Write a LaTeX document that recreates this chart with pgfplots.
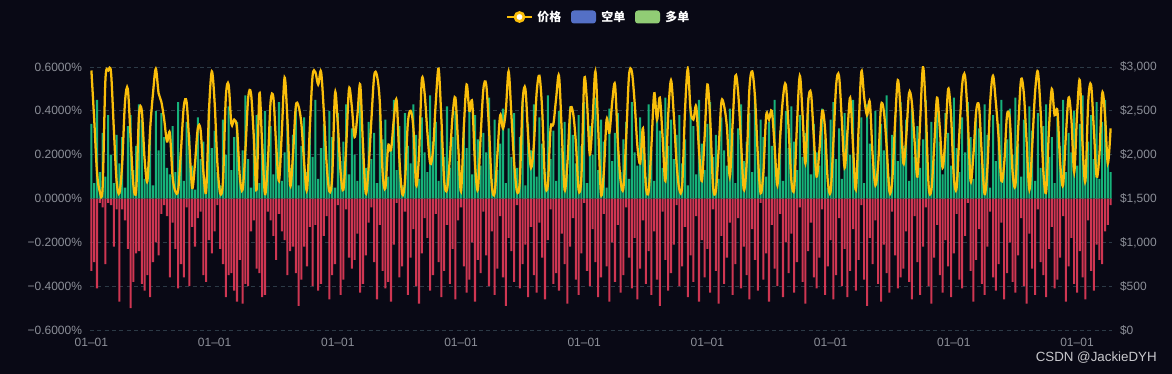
\documentclass[border=0pt]{standalone}
\usepackage{pgfplots}
\pgfplotsset{compat=1.18}
\usepackage{pgfplotstable}
\usepackage{fontspec}
\setmainfont{Liberation Sans}
\newfontfamily\cjk{Noto Sans CJK SC}
\definecolor{bg}{RGB}{9,9,21}
\definecolor{gridc}{RGB}{44,58,70}
\definecolor{tickc}{RGB}{140,143,152}
\definecolor{gold}{RGB}{250,190,10}
\definecolor{upg}{RGB}{22,178,122}
\definecolor{dnr}{RGB}{207,54,82}
\definecolor{legb}{RGB}{84,112,198}
\definecolor{legg}{RGB}{145,204,117}
\pgfplotstableread{
g r p
0.34 -0.33 2960
0.07 -0.29 2400
0.45 -0.41 1800
0.12 -0.02 1580
0.30 -0.04 1620
0.10 -0.30 2850
0.38 -0.02 2960
0.20 -0.03 2940
0.07 -0.22 2300
0.29 -0.05 1700
0.16 -0.47 1560
0.28 -0.05 1900
0.05 -0.10 2600
0.33 -0.23 2750
0.38 -0.50 2200
0.13 -0.38 1650
0.24 -0.25 1600
0.43 -0.24 2450
0.36 -0.39 2500
0.09 -0.42 1950
0.14 -0.35 1700
0.31 -0.45 2300
0.06 -0.29 2700
0.40 -0.20 2980
0.22 -0.26 2700
0.39 -0.07 2600
0.28 -0.03 2400
0.14 -0.08 2150
0.11 -0.36 2250
0.33 -0.11 1750
0.12 -0.23 1580
0.44 -0.41 1600
0.21 -0.30 2050
0.08 -0.36 2550
0.35 -0.04 2600
0.29 -0.40 2100
0.15 -0.13 1620
0.04 -0.22 1900
0.37 -0.09 2300
0.18 -0.06 2280
0.26 -0.35 1800
0.09 -0.38 1590
0.41 -0.19 2500
0.23 -0.25 2950
0.31 -0.15 2600
0.12 -0.03 1900
0.06 -0.23 1560
0.36 -0.30 1700
0.20 -0.45 2650
0.42 -0.35 2800
0.13 -0.34 2350
0.28 -0.42 2400
0.35 -0.47 2300
0.10 -0.28 1750
0.22 -0.48 1600
0.47 -0.39 2050
0.18 -0.40 2650
0.05 -0.15 2700
0.30 -0.10 2200
0.38 -0.32 1600
0.07 -0.34 2700
0.25 -0.45 2100
0.40 -0.44 1550
0.16 -0.06 1900
0.33 -0.10 2600
0.11 -0.17 2650
0.27 -0.28 2100
0.44 -0.07 1700
0.08 -0.15 2250
0.21 -0.19 2880
0.36 -0.35 2400
0.14 -0.24 1650
0.29 -0.22 2000
0.42 -0.34 2550
0.06 -0.49 2550
0.24 -0.37 2350
0.37 -0.22 1900
0.12 -0.31 1600
0.31 -0.13 2300
0.19 -0.40 2900
0.45 -0.12 2940
0.09 -0.42 2800
0.23 -0.39 2950
0.34 -0.17 2500
0.15 -0.08 1900
0.40 -0.46 1580
0.28 -0.35 1750
0.05 -0.30 2700
0.39 -0.03 2350
0.17 -0.44 1800
0.26 -0.37 1600
0.43 -0.05 2100
0.11 -0.27 2750
0.32 -0.32 2550
0.20 -0.28 2200
0.08 -0.16 2450
0.46 -0.43 2800
0.25 -0.39 2100
0.14 -0.26 1560
0.35 -0.11 1850
0.18 -0.04 2400
0.30 -0.29 2900
0.07 -0.46 2900
0.41 -0.12 2600
0.27 -0.33 1800
0.36 -0.41 1620
0.10 -0.38 2100
0.22 -0.47 2050
0.45 -0.21 2400
0.13 -0.02 2620
0.33 -0.36 1950
0.06 -0.31 1550
0.39 -0.06 1700
0.24 -0.44 2350
0.16 -0.27 2500
0.43 -0.14 2300
0.29 -0.40 1650
0.09 -0.48 2000
0.37 -0.25 2850
0.21 -0.09 2700
0.12 -0.18 2250
0.47 -0.42 1900
0.26 -0.35 2050
0.35 -0.07 2600
0.08 -0.29 2980
0.31 -0.45 2400
0.19 -0.33 1700
0.42 -0.12 1600
0.14 -0.39 1950
0.28 -0.23 2450
0.40 -0.46 2650
0.17 -0.10 2100
0.05 -0.04 1580
0.34 -0.31 2300
0.23 -0.43 2800
0.44 -0.37 2500
0.11 -0.20 2600
0.38 -0.47 1900
0.27 -0.28 1600
0.15 -0.34 2200
0.30 -0.06 2750
0.21 -0.26 2800
0.46 -0.40 2300
0.09 -0.15 1650
0.36 -0.44 1560
0.13 -0.32 2000
0.25 -0.08 2450
0.41 -0.36 2300
0.07 -0.49 2500
0.32 -0.18 2950
0.19 -0.24 2450
0.39 -0.38 1900
0.14 -0.03 1580
0.28 -0.41 1700
0.45 -0.30 2600
0.06 -0.21 2750
0.34 -0.45 2200
0.22 -0.13 1850
0.43 -0.35 2100
0.10 -0.43 2700
0.37 -0.11 2900
0.25 -0.27 2500
0.12 -0.46 1700
0.47 -0.19 1650
0.18 -0.05 2300
0.31 -0.39 2350
0.08 -0.34 2650
0.40 -0.42 2900
0.23 -0.16 2250
0.35 -0.30 1600
0.11 -0.48 1900
0.42 -0.22 2500
0.29 -0.09 2480
0.16 -0.37 2150
0.38 -0.44 1600
0.24 -0.25 1750
0.44 -0.02 2850
0.07 -0.33 2600
0.33 -0.40 2000
0.20 -0.14 2400
0.46 -0.29 2950
0.13 -0.45 2300
0.36 -0.36 1550
0.26 -0.07 1800
0.05 -0.31 2400
0.41 -0.47 2250
0.17 -0.20 2600
0.30 -0.38 2800
0.39 -0.12 2150
0.12 -0.43 1700
0.27 -0.35 1620
0.35 -0.04 2200
0.09 -0.27 2900
0.44 -0.41 2950
0.21 -0.18 2600
0.15 -0.46 2100
0.37 -0.32 1900
0.28 -0.10 2300
0.10 -0.39 1650
0.43 -0.24 1580
0.22 -0.44 2100
0.08 -0.15 2700
0.40 -0.37 2400
0.31 -0.49 2650
0.14 -0.06 2200
0.46 -0.28 1700
0.24 -0.42 2450
0.36 -0.34 2850
0.18 -0.21 2450
0.29 -0.03 1900
0.38 -0.40 1600
0.16 -0.31 1650
0.27 -0.13 2500
0.06 -0.45 2980
0.42 -0.26 2500
0.33 -0.38 2400
0.11 -0.08 2550
0.45 -0.47 2050
0.25 -0.19 1700
0.13 -0.36 2200
0.34 -0.23 2800
0.44 -0.43 2400
0.19 -0.05 1650
0.29 -0.33 1580
0.09 -0.48 2050
0.37 -0.17 2600
0.22 -0.39 2550
0.15 -0.27 2300
0.41 -0.11 1750
0.30 -0.44 2350
0.07 -0.30 2900
0.32 -0.09 2700
0.43 -0.41 2150
0.17 -0.22 1600
0.26 -0.35 1900
0.39 -0.46 2750
0.12 -0.14 2950
0.47 -0.28 2650
0.20 -0.42 2000
0.36 -0.02 1560
0.28 -0.37 1800
0.10 -0.25 2450
0.35 -0.47 2400
0.24 -0.12 2500
0.45 -0.32 2100
0.14 -0.40 1650
0.31 -0.07 2200
0.08 -0.45 2650
0.40 -0.20 2800
0.23 -0.34 2300
0.42 -0.16 1700
0.26 -0.43 1620
0.13 -0.29 2350
0.38 -0.04 2900
0.19 -0.38 2450
0.30 -0.48 1900
0.46 -0.24 2600
0.11 -0.11 2700
0.34 -0.36 2200
0.21 -0.41 1750
0.15 -0.27 2050
0.41 -0.05 2500
0.27 -0.44 2300
0.05 -0.31 1700
0.36 -0.19 1580
0.44 -0.46 2150
0.18 -0.35 2800
0.32 -0.09 2900
0.09 -0.40 2400
0.39 -0.23 1850
0.31 -0.45 2250
0.20 -0.33 2650
0.45 -0.14 2100
0.12 -0.42 1600
0.28 -0.28 2300
0.37 -0.03 2950
0.07 -0.37 2650
0.43 -0.49 2450
0.25 -0.18 2600
0.16 -0.30 2000
0.40 -0.10 1650
0.13 -0.39 1900
0.34 -0.47 2550
0.22 -0.21 2500
0.47 -0.34 2100
0.10 -0.43 1580
0.29 -0.06 1700
0.38 -0.26 2350
0.17 -0.41 2850
0.44 -0.36 2500
0.24 -0.32 1900
0.36 -0.15 2200
0.08 -0.38 2700
0.41 -0.46 2600
0.19 -0.08 2150
0.33 -0.29 1750
0.14 -0.44 2400
0.27 -0.22 3000
0.45 -0.04 2500
0.06 -0.40 1650
0.35 -0.48 1600
0.18 -0.27 2100
0.42 -0.12 2650
0.26 -0.35 2300
0.11 -0.43 1850
0.39 -0.19 2200
0.30 -0.31 2750
0.15 -0.45 2450
0.46 -0.25 1750
0.23 -0.07 1620
0.12 -0.37 2250
0.37 -0.41 2800
0.21 -0.17 2900
0.44 -0.02 2400
0.28 -0.33 1700
0.09 -0.47 2000
0.40 -0.28 2500
0.32 -0.14 2550
0.16 -0.39 2000
0.43 -0.44 1550
0.29 -0.22 1850
0.05 -0.06 2600
0.38 -0.36 2900
0.17 -0.42 2600
0.34 -0.30 2200
0.45 -0.11 1700
0.13 -0.46 1900
0.27 -0.34 2450
0.41 -0.20 2400
0.20 -0.38 1800
0.46 -0.43 1650
0.25 -0.26 2300
0.10 -0.09 2850
0.36 -0.40 2700
0.22 -0.48 2150
0.42 -0.16 1600
0.31 -0.32 2100
0.08 -0.44 2700
0.39 -0.05 2950
0.14 -0.29 2500
0.33 -0.35 1800
0.43 -0.45 1580
0.19 -0.23 2300
0.28 -0.13 2750
0.07 -0.41 2450
0.37 -0.37 2500
0.24 -0.27 1900
0.45 -0.08 1650
0.12 -0.47 2200
0.30 -0.31 2650
0.21 -0.18 2400
0.40 -0.39 1800
0.15 -0.43 2450
0.34 -0.24 2850
0.47 -0.36 2100
0.11 -0.46 1700
0.26 -0.10 2600
0.38 -0.33 2800
0.18 -0.42 2300
0.44 -0.21 1750
0.09 -0.28 2000
0.35 -0.30 2700
0.45 -0.15 2450
0.17 -0.12 1900
0.12 -0.03 2300
}\data
\begin{document}
\begin{tikzpicture}[x=0.75pt,y=0.75pt]
\fill[bg] (0,0) rectangle (1172,374);
\useasboundingbox (0,0) rectangle (1172,374);
\begin{axis}[
  at={(67.5pt,33pt)}, anchor=south west,
  scale only axis, width=766.5pt, height=197.25pt,
  xmin=-0.5, xmax=364.5, ymin=-0.6, ymax=0.6,
  axis line style={draw=none}, major tick length=0pt,
  xtick={0,44,88,132,176,220,264,308,352},
  xticklabels={01–01,01–01,01–01,01–01,01–01,01–01,01–01,01–01,01–01},
  ytick={-0.6,-0.4,-0.2,0,0.2,0.4,0.6},
  yticklabels={−0.6000\%,−0.4000\%,−0.2000\%,0.0000\%,0.2000\%,0.4000\%,0.6000\%},
  ymajorgrids, major grid style={gridc, dash pattern=on 3pt off 2.5pt, line width=0.7pt},
  ticklabel style={font=\fontsize{9}{10}\selectfont, text=tickc},
  yticklabel style={xshift=-2.5pt},
  xticklabel style={yshift=-2.5pt},
  clip=false,
]
\addplot[ybar, bar shift=0pt, bar width=0.72, fill=upg, draw=none] table[x expr=\coordindex, y=g] {\data};
\addplot[ybar, bar shift=0pt, bar width=0.72, fill=dnr, draw=none] table[x expr=\coordindex, y=r] {\data};
\end{axis}
\begin{axis}[
  at={(67.5pt,33pt)}, anchor=south west,
  scale only axis, width=766.5pt, height=197.25pt,
  xmin=-0.5, xmax=364.5, ymin=0, ymax=3000,
  axis x line=none, axis y line*=right,
  axis line style={draw=none}, major tick length=0pt,
  ytick={0,500,1000,1500,2000,2500,3000},
  yticklabels={\$0,\$500,{\$1,000},{\$1,500},{\$2,000},{\$2,500},{\$3,000}},
  ticklabel style={font=\fontsize{9}{10}\selectfont, text=tickc},
  yticklabel style={xshift=2.5pt},
]
\addplot[gold, line width=1.7pt, smooth, tension=0.55, no marks] table[x expr=\coordindex, y=p] {\data};
\end{axis}
% legend
\draw[gold, line width=1.5pt] (507,357) -- (532,357);
\draw[gold, line width=2pt, fill=white] (519.5,357) circle (4.5);
\node[anchor=west, text=white, inner sep=0pt, font=\cjk\bfseries\fontsize{9}{10}\selectfont] at (537,357) {价格};
\fill[legb, rounded corners=2.2pt] (571,350.5) rectangle (596,363.5);
\node[anchor=west, text=white, inner sep=0pt, font=\cjk\bfseries\fontsize{9}{10}\selectfont] at (601,357) {空单};
\fill[legg, rounded corners=2.2pt] (635,350.5) rectangle (660,363.5);
\node[anchor=west, text=white, inner sep=0pt, font=\cjk\bfseries\fontsize{9}{10}\selectfont] at (665,357) {多单};
\node[anchor=east, text={rgb,255:red,200;green,200;blue,204}, inner sep=0pt, font=\fontsize{10}{12}\selectfont] at (1157,16) {CSDN @JackieDYH};
\end{tikzpicture}
\end{document}
